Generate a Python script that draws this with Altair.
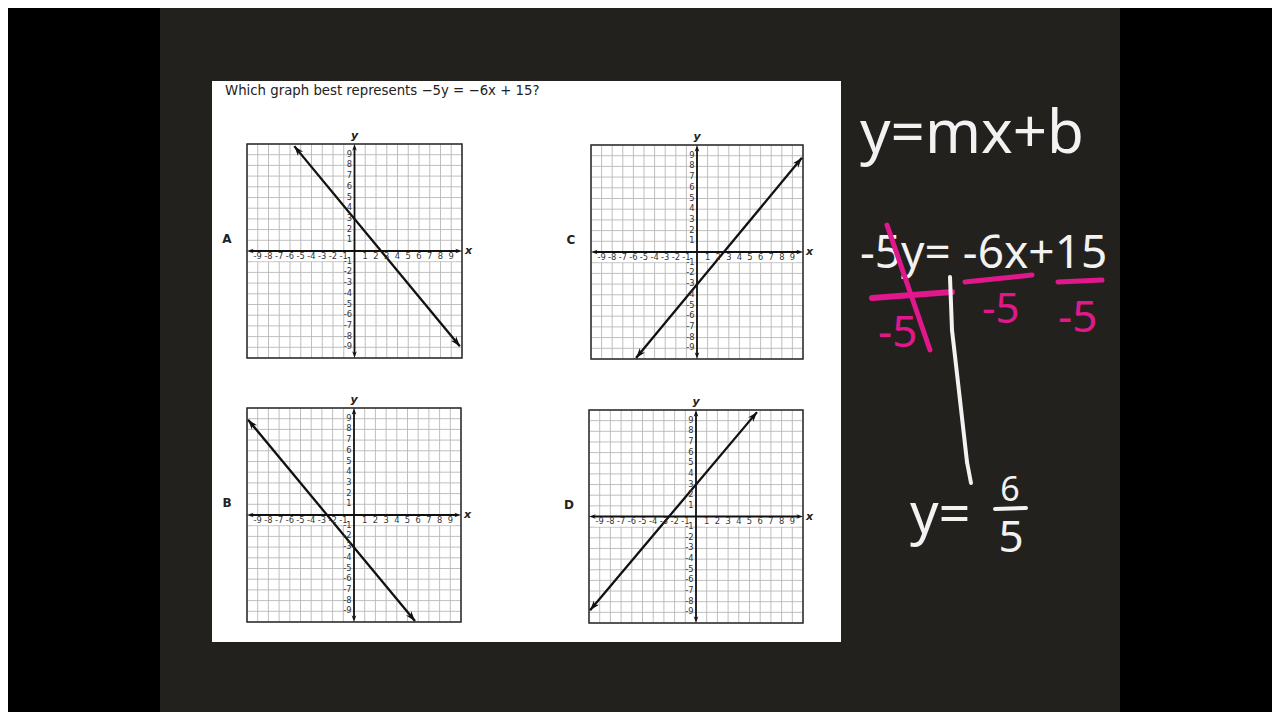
import altair as alt
import pandas as pd

# ---------------- values ----------------
panel_names = ["A", "B", "C", "D"]
# arrow tips of each graphed line (graph units)
line_start_x = [-5.6, -9.9, -5.75, -9.9]
line_start_y = [9.8, 8.9, -9.9, -8.8]
line_end_x = [9.8, 5.7, 9.9, 5.7]
line_end_y = [-8.9, -9.9, 8.8, 9.8]
grid_values = list(range(-10, 11))
tick_values = [-9, -8, -7, -6, -5, -4, -3, -2, -1, 1, 2, 3, 4, 5, 6, 7, 8, 9]
axis_end_x = [-10, 10, 0, 0]
axis_end_y = [0, 0, -10, 10]

question = "Which graph best represents \u22125y = \u22126x + 15?"
note_formula = "y=mx+b"
note_equation = "-5y= -6x+15"
note_divisor = "-5"
note_result = "y="
note_numerator = "6"
note_denominator = "5"

# ---------------- layout (page pixels) ----------------
W, H = 1264, 704
OFF = 8
BG = "#23211e"
INK = "#f2f2f2"
PINK = "#e1178c"
panel_x_px = {"A": (247, 462), "B": (247, 461), "C": (591, 803), "D": (589, 803)}
panel_y_px = {"A": (358, 144), "B": (622, 408), "C": (359, 145), "D": (623, 410)}
ARROW = "M0,0L0.65,1.9L0,1.35L-0.65,1.9Z"

one = pd.DataFrame({"k": [0]})


def prect(x1, y1, x2, y2, color):
    return alt.Chart(one).mark_rect(color=color).encode(
        x=alt.value(x1 - OFF), x2=alt.value(x2 - OFF),
        y=alt.value(y1 - OFF), y2=alt.value(y2 - OFF))


def ptext(s, x, y, size, color, align="left", font="Noto Sans", weight="normal"):
    return alt.Chart(one).mark_text(
        text=s, align=align, baseline="alphabetic", fontSize=size, font=font,
        fontWeight=weight, color=color).encode(x=alt.value(x - OFF), y=alt.value(y - OFF))


def pseg(x1, y1, x2, y2, color, width):
    return alt.Chart(one).mark_rule(color=color, strokeWidth=width, strokeCap="round").encode(
        x=alt.value(x1 - OFF), x2=alt.value(x2 - OFF),
        y=alt.value(y1 - OFF), y2=alt.value(y2 - OFF))


ANG = "(atan2(datum.dx, datum.dy) * 180 / PI + 360) % 360"


def graph(i):
    name = panel_names[i]
    xr = [panel_x_px[name][0] - OFF, panel_x_px[name][1] - OFF]
    yr = [panel_y_px[name][0] - OFF, panel_y_px[name][1] - OFF]
    xs = alt.Scale(domain=[-10, 10], range=xr, nice=False, zero=False)
    ys = alt.Scale(domain=[-10, 10], range=yr, nice=False, zero=False)

    def XD(v):
        return alt.XDatum(v, scale=xs, axis=None)

    def YD(v):
        return alt.YDatum(v, scale=ys, axis=None)

    grid_df = pd.DataFrame({"g": grid_values})
    tick_df = pd.DataFrame({"t": tick_values})

    vgrid = alt.Chart(grid_df).mark_rule(color="#b8b8b8", strokeWidth=0.9).encode(
        x=alt.X("g:Q", scale=xs, axis=None), y=YD(-10), y2=alt.datum(10))
    hgrid = alt.Chart(grid_df).mark_rule(color="#b8b8b8", strokeWidth=0.9).encode(
        y=alt.Y("g:Q", scale=ys, axis=None), x=XD(-10), x2=alt.datum(10))

    xlab_bg = alt.Chart(tick_df).transform_calculate(
        lo="datum.t - 0.45", hi="datum.t + 0.45"
    ).mark_rect(color="white").encode(
        x=alt.X("lo:Q", scale=xs, axis=None), x2="hi:Q", y=YD(-0.15), y2=alt.datum(-0.95))

    box = alt.Chart(one).mark_rect(fillOpacity=0, stroke="#2a2a2a", strokeWidth=1.5).encode(
        x=XD(-10), x2=alt.datum(10), y=YD(-10), y2=alt.datum(10))

    xaxis = alt.Chart(one).mark_rule(color="#111111", strokeWidth=1.8).encode(
        x=XD(-9.6), x2=alt.datum(9.6), y=YD(0))
    yaxis = alt.Chart(one).mark_rule(color="#111111", strokeWidth=1.8).encode(
        y=YD(-9.6), y2=alt.datum(9.6), x=XD(0))

    ax_df = pd.DataFrame({"ax": axis_end_x, "ay": axis_end_y})
    ax_arrows = alt.Chart(ax_df).transform_calculate(
        dx="datum.ax", dy="datum.ay"
    ).transform_calculate(ang=ANG).mark_point(
        shape=ARROW, filled=True, size=50, color="#111111", opacity=1
    ).encode(
        x=alt.X("ax:Q", scale=xs, axis=None), y=alt.Y("ay:Q", scale=ys, axis=None),
        angle=alt.Angle("ang:Q", scale=None))

    line_df = pd.DataFrame({
        "x1": [line_start_x[i]], "y1": [line_start_y[i]],
        "x2": [line_end_x[i]], "y2": [line_end_y[i]]})
    fline = alt.Chart(line_df).mark_rule(color="#111111", strokeWidth=2.3).encode(
        x=alt.X("x1:Q", scale=xs, axis=None), y=alt.Y("y1:Q", scale=ys, axis=None),
        x2="x2:Q", y2="y2:Q")

    tip_df = pd.DataFrame({
        "px": [line_start_x[i], line_end_x[i]],
        "py": [line_start_y[i], line_end_y[i]],
        "qx": [line_end_x[i], line_start_x[i]],
        "qy": [line_end_y[i], line_start_y[i]]})
    tips = alt.Chart(tip_df).transform_calculate(
        dx="datum.px - datum.qx", dy="datum.py - datum.qy"
    ).transform_calculate(ang=ANG).mark_point(
        shape=ARROW, filled=True, size=110, color="#111111", opacity=1
    ).encode(
        x=alt.X("px:Q", scale=xs, axis=None), y=alt.Y("py:Q", scale=ys, axis=None),
        angle=alt.Angle("ang:Q", scale=None))

    xlabels = alt.Chart(tick_df).transform_calculate(lab="toString(datum.t)").mark_text(
        fontSize=8.3, font="DejaVu Sans", color="#333333", align="center", baseline="middle", dy=5.5
    ).encode(x=alt.X("t:Q", scale=xs, axis=None), y=YD(0), text="lab:N")
    ylabels = alt.Chart(tick_df).transform_calculate(lab="toString(datum.t)").mark_text(
        fontSize=8.3, font="DejaVu Sans", color="#333333", align="right", baseline="middle", dx=-2.5
    ).encode(y=alt.Y("t:Q", scale=ys, axis=None), x=XD(0), text="lab:N")

    xname = alt.Chart(one).mark_text(
        text="x", fontSize=11, font="DejaVu Sans", fontStyle="italic", fontWeight="bold",
        color="#222222", align="left", baseline="middle", dx=3).encode(x=XD(10), y=YD(0))
    yname = alt.Chart(one).mark_text(
        text="y", fontSize=11, font="DejaVu Sans", fontStyle="italic", fontWeight="bold",
        color="#222222", align="center", baseline="middle", dy=-8).encode(x=XD(0), y=YD(10))
    letter = alt.Chart(one).mark_text(
        text=name, fontSize=12, font="DejaVu Sans", fontWeight="bold",
        color="#222222", align="center", baseline="middle", dx=-20, dy=-12).encode(x=XD(-10), y=YD(0))

    return alt.layer(vgrid, hgrid, xlab_bg, box, xaxis, yaxis, ax_arrows, fline, tips,
                     xlabels, ylabels, xname, yname, letter)


decor = [
    prect(0, 0, 160, 720, "#000000"),
    prect(1120, 0, 1280, 720, "#000000"),
    prect(212, 81, 841, 642, "#ffffff"),
    ptext(question, 225, 95, 13.3, "#222222", font="DejaVu Sans"),
]

notes = [
    ptext(note_formula, 860, 153, 60, INK),
    ptext(note_equation, 860, 268, 46, INK),
    pseg(887, 225, 930, 350, PINK, 5),
    pseg(872, 298, 952, 292, PINK, 6),
    ptext(note_divisor, 878, 347, 44, PINK),
    pseg(965, 282, 1032, 275, PINK, 5),
    ptext(note_divisor, 982, 323, 42, PINK),
    pseg(1058, 282, 1102, 280, PINK, 5),
    ptext(note_divisor, 1058, 332, 44, PINK),
    pseg(950, 277, 952, 330, INK, 4),
    pseg(952, 330, 960, 400, INK, 4),
    pseg(960, 400, 967, 462, INK, 4),
    pseg(967, 462, 971, 483, INK, 4),
    ptext(note_result, 910, 533, 56, INK),
    ptext(note_numerator, 1010, 501, 34, INK, align="center"),
    pseg(995, 509, 1026, 508, INK, 4),
    ptext(note_denominator, 1011, 552, 44, INK, align="center"),
]

chart = alt.layer(
    *decor, *[graph(i) for i in range(4)], *notes
).resolve_scale(
    x="independent", y="independent"
).properties(
    width=W, height=H, background=BG, padding=0, autosize="none"
).configure_view(strokeWidth=0)

chart.save("out.html", embed_options={"renderer": "svg", "actions": False})
